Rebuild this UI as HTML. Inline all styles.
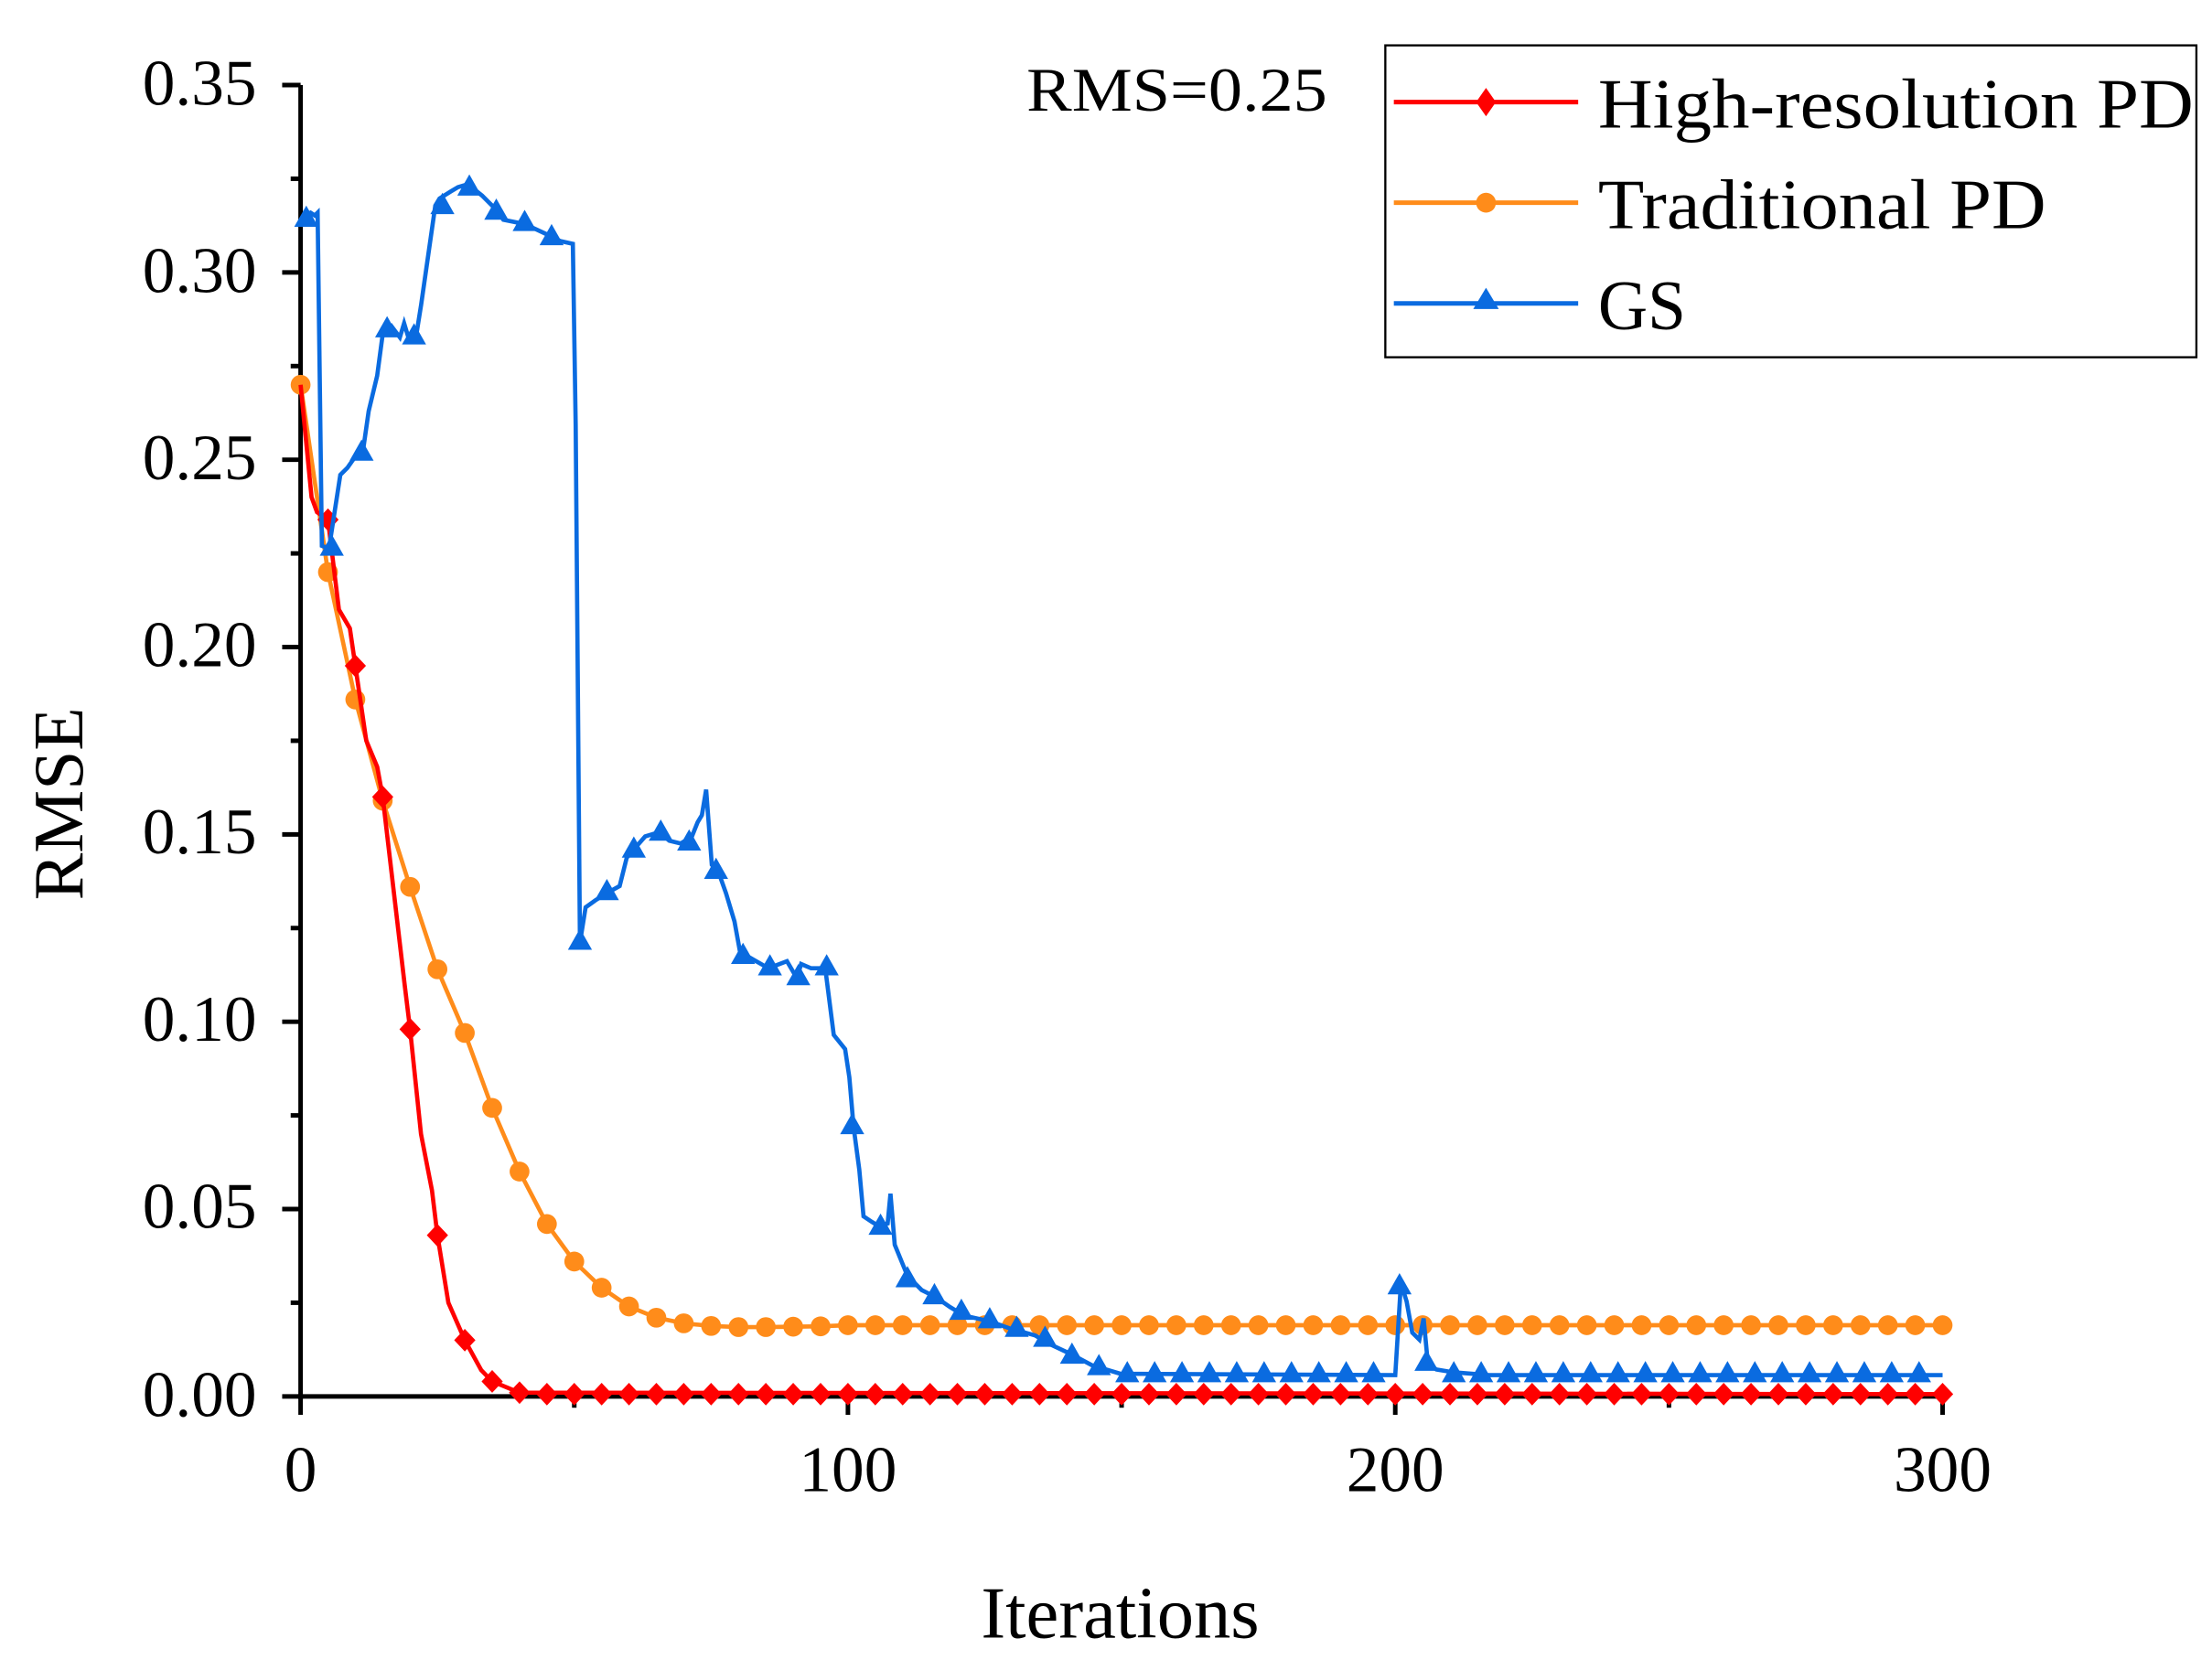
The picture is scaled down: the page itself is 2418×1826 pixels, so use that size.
<!DOCTYPE html>
<html><head><meta charset="utf-8"><style>
html,body{margin:0;padding:0;background:#fff}
svg{display:block}
text{font-family:"Liberation Serif",serif;fill:#000}
</style></head><body>
<svg id="s" width="2418" height="1826" viewBox="0 0 1560 1178" preserveAspectRatio="none" xmlns="http://www.w3.org/2000/svg">
<g stroke="#000" stroke-width="3.2" fill="none">
<line x1="212" y1="60" x2="212" y2="987"/>
<line x1="210" y1="985" x2="1370" y2="985"/>
</g>
<g id="ticks" stroke="#000" stroke-width="3.2"></g>
<g font-size="46" text-anchor="end">
<text x="181" y="74">0.35</text>
<text x="181" y="206">0.30</text>
<text x="181" y="338">0.25</text>
<text x="181" y="470">0.20</text>
<text x="181" y="602">0.15</text>
<text x="181" y="734">0.10</text>
<text x="181" y="866">0.05</text>
<text x="181" y="999">0.00</text>
</g>
<g font-size="46" text-anchor="middle">
<text x="212" y="1052">0</text>
<text x="598" y="1052">100</text>
<text x="984" y="1052">200</text>
<text x="1370" y="1052">300</text>
</g>
<text x="790" y="1155" font-size="52" text-anchor="middle">Iterations</text>
<text transform="translate(58,567) rotate(-90)" font-size="50" text-anchor="middle">RMSE</text>
<text x="724" y="78" font-size="44" textLength="212" lengthAdjust="spacingAndGlyphs">RMS=0.25</text>
<g id="plot"></g>
<rect x="977" y="32" width="572" height="220" fill="#fff" stroke="#000" stroke-width="1.5"/>
<g stroke-width="3.2">
<line x1="983" y1="72" x2="1113" y2="72" stroke="#ff0000"/>
<line x1="983" y1="143" x2="1113" y2="143" stroke="#ff8c1a"/>
<line x1="983" y1="214" x2="1113" y2="214" stroke="#0a6be0"/>
</g>
<polygon points="1048,62 1055,72 1048,82 1041,72" fill="#ff0000"/>
<circle cx="1048" cy="143" r="7" fill="#ff8c1a"/>
<polygon points="1048,203 1057,218 1039,218" fill="#0a6be0"/>
<g font-size="50">
<text x="1127" y="90" textLength="420" lengthAdjust="spacingAndGlyphs">High-resolution PD</text>
<text x="1127" y="161" textLength="316" lengthAdjust="spacingAndGlyphs">Traditional PD</text>
<text x="1127" y="232" textLength="62" lengthAdjust="spacingAndGlyphs">GS</text>
</g>
</svg>
<script>
const NS="http://www.w3.org/2000/svg";
const X=i=>212+i*3.86, Y=v=>985-v*2642.86;
const plot=document.getElementById('plot'), tk=document.getElementById('ticks');
function el(n,a,p){const e=document.createElementNS(NS,n);for(const k in a)e.setAttribute(k,a[k]);(p||plot).appendChild(e);return e;}
for(let k=0;k<=14;k++){const y=985-k*66.07;el('line',{x1:k%2?205:199,y1:y,x2:212,y2:y},tk);}
for(let k=0;k<=6;k++){const x=212+k*193;el('line',{x1:x,y1:985,x2:x,y2:k%2?993:998},tk);}
const ov=[0.27,0.22,0.186,0.159,0.136,0.114,0.097,0.077,0.060,0.046,0.036,0.029,0.024,0.021,0.0195,0.0188,0.0185,0.0185,0.0186,0.0187];
const op=[];for(let i=0;i<=60;i++){const v=i<ov.length?ov[i]:0.019;op.push([X(i*5),Y(v)]);}
el('polyline',{points:op.map(p=>p.join(',')).join(' '),fill:'none',stroke:'#ff8c1a','stroke-width':3});
op.forEach(p=>el('circle',{cx:p[0],cy:p[1],r:7,fill:'#ff8c1a'}));
const rv=[0.27,0.234,0.195,0.16,0.098,0.043,0.015,0.004,0.001];
const rl=[[X(0),Y(.27)],[X(2),Y(.24)],[X(3),Y(.236)],[X(5),Y(.234)],[X(7),Y(.21)],[X(9),Y(.205)],[X(10),Y(.195)],[X(12),Y(.175)],[X(14),Y(.168)],[X(15),Y(.16)],[X(17),Y(.135)],[X(19),Y(.11)],[X(20),Y(.098)],[X(22),Y(.07)],[X(24),Y(.055)],[X(25),Y(.043)],[X(27),Y(.025)],[X(30),Y(.015)],[X(33),Y(.007)],[X(35),Y(.004)],[X(40),Y(.001)],[X(300),Y(.0006)]];
el('polyline',{points:rl.map(p=>p.join(',')).join(' '),fill:'none',stroke:'#ff0000','stroke-width':3});
for(let i=1;i<=60;i++){const v=i<rv.length?rv[i]:0.0006;const x=X(i*5),y=Y(v);el('polygon',{points:`${x},${y-8} ${x+7.5},${y} ${x},${y+8} ${x-7.5},${y}`,fill:'#ff0000'});}
const g=[[212,155],[215,152],[219,150],[222,152],[224,150],[227,385],[232,387],[240,335],[245,330],[252,320],[256,318],[260,290],[266,265],[270,235],[276,230],[282,238],[285,228],[288,238],[293,240],[297,215],[302,180],[307,145],[310,140],[318,135],[323,132],[330,130],[340,138],[350,148],[355,155],[370,158],[385,165],[395,170],[404,172],[406,300],[409,665],[413,640],[420,635],[428,630],[437,625],[442,605],[448,598],[455,590],[465,587],[472,593],[480,595],[488,590],[492,580],[495,575],[498,557],[502,610],[507,616],[512,630],[518,650],[522,672],[528,675],[542,683],[555,678],[562,690],[565,680],[572,683],[582,683],[588,730],[596,740],[599,760],[602,795],[606,825],[609,858],[615,862],[620,865],[626,863],[628,842],[631,878],[640,900],[650,910],[660,915],[670,922],[680,928],[698,932],[712,937],[730,942],[740,948],[755,955],[770,963],[790,969],[984,970],[988,905],[992,918],[996,940],[1001,945],[1004,930],[1007,962],[1013,966],[1025,968],[1050,970],[1370,970]];
el('polyline',{points:g.map(p=>p.join(',')).join(' '),fill:'none',stroke:'#0a6be0','stroke-width':3});
const gm=[[216,155],[234,387],[255,320],[273,233],[292,238],[312,146],[331,133],[350,150],[370,158],[389,168],[409,665],[428,630],[447,600],[466,588],[486,595],[505,615],[524,675],[543,683],[563,690],[583,683],[601,795],[621,866],[640,903],[659,915],[678,926],[698,932],[717,938],[737,945],[756,957],[775,965]];
for(let x=795;x<=1372;x+=19.3){let y=970;if(Math.abs(x-987)<8){x=987;y=908;}else if(Math.abs(x-1006)<8){x=1006;y=962;}gm.push([x,y]);}
gm.forEach(([x,y])=>el('polygon',{points:`${x},${y-10} ${x+8.5},${y+5} ${x-8.5},${y+5}`,fill:'#0a6be0'}));
</script>
</body></html>
